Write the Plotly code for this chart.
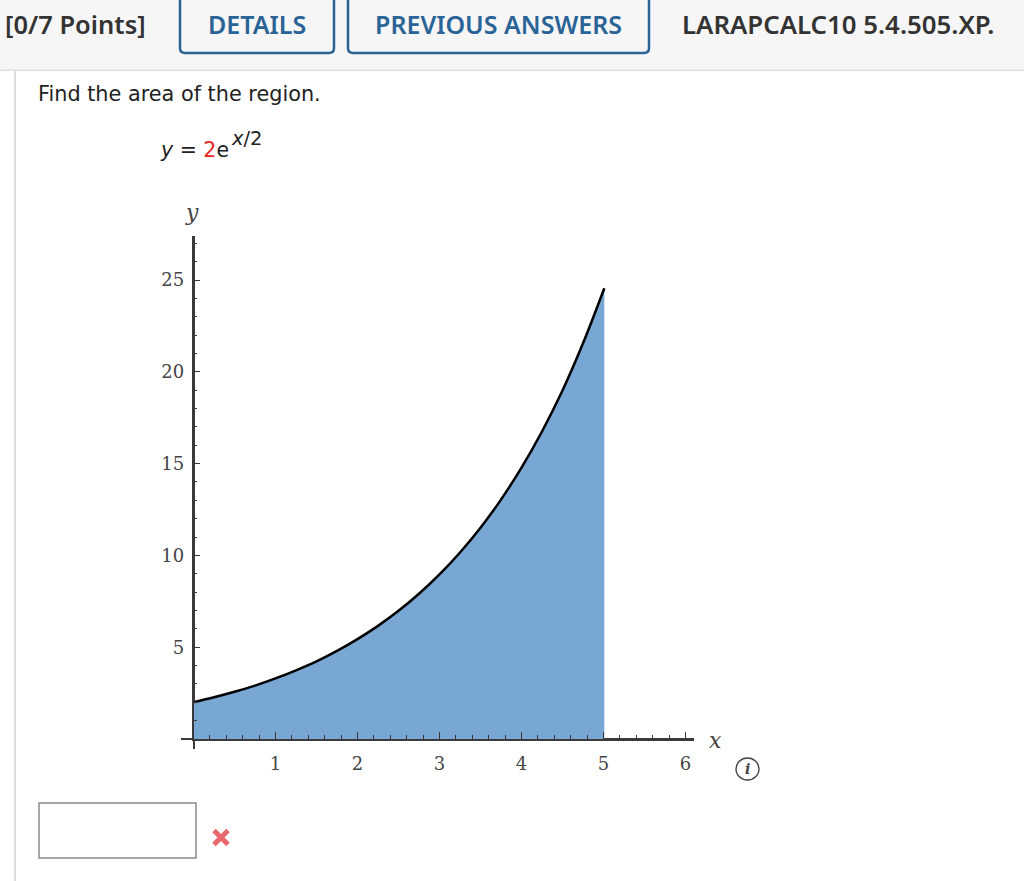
import plotly.graph_objects as go

# values
x_vals = [0, 0.25, 0.5, 0.75, 1, 1.25, 1.5, 1.75, 2, 2.25, 2.5, 2.75, 3, 3.25, 3.5, 3.75, 4, 4.25, 4.5, 4.75, 5.01]
y_vals = [2, 2.27, 2.57, 2.91, 3.3, 3.74, 4.23, 4.8, 5.44, 6.16, 6.98, 7.91, 8.96, 10.16, 11.51, 13.04, 14.78, 16.75, 18.98, 21.55, 24.55]
x_ticks = [1, 2, 3, 4, 5, 6]
y_ticks = [5, 10, 15, 20, 25]

W, H = 1024, 881
BLUE = "#2a6496"
AXIS = "#3a3a3a"
HEAD_FONT = "Noto Sans"
SERIF = "DejaVu Serif"

# pixel layout of the graph
x0_px, x_end_px, x_left_px = 193.5, 694, 181
y0_px, y_top_px, y_bot_px = 739, 236, 749
px_per_x = 82
px_per_y = 18.36


def fx(px):
    return px / W


def fy(py):
    return 1 - py / H


fig = go.Figure()

# back axes, only there for the zero lines that overshoot the origin
fig.add_trace(go.Scatter(x=[], y=[], xaxis="x", yaxis="y", showlegend=False))

fig.add_trace(go.Scatter(
    x=x_vals, y=y_vals, xaxis="x2", yaxis="y2",
    mode="lines", line=dict(color="black", width=2.5, shape="spline"),
    fill="tozeroy", fillcolor="#78a7d3", showlegend=False, hoverinfo="skip",
))

fig.update_layout(
    width=W, height=H, margin=dict(l=0, r=0, t=0, b=0),
    paper_bgcolor="white", plot_bgcolor="rgba(0,0,0,0)",
    xaxis=dict(
        domain=[fx(x_left_px), fx(x_end_px)],
        range=[(x_left_px - x0_px) / px_per_x, (x_end_px - x0_px) / px_per_x],
        showgrid=False, showticklabels=False, ticks="",
        zeroline=True, zerolinecolor=AXIS, zerolinewidth=1.6,
    ),
    yaxis=dict(
        domain=[fy(y_bot_px), fy(y_top_px)],
        range=[(y0_px - y_bot_px) / px_per_y, (y0_px - y_top_px) / px_per_y],
        showgrid=False, showticklabels=False, ticks="",
        zeroline=True, zerolinecolor=AXIS, zerolinewidth=1.6,
    ),
    xaxis2=dict(
        domain=[fx(x0_px), fx(x_end_px)], anchor="y2",
        range=[0, (x_end_px - x0_px) / px_per_x],
        showgrid=False, zeroline=False, showline=True, linecolor=AXIS, linewidth=1.6,
        tickmode="array", tickvals=x_ticks, ticks="inside", ticklen=7, tickwidth=1.4, tickcolor=AXIS,
        ticklabelstandoff=8,
        tickfont=dict(family=SERIF, size=18, color="#444444"),
        minor=dict(tickmode="linear", tick0=0, dtick=0.2, ticks="inside", ticklen=4, tickwidth=1.4, tickcolor=AXIS),
    ),
    yaxis2=dict(
        domain=[fy(y0_px), fy(y_top_px)], anchor="x2",
        range=[0, (y0_px - y_top_px) / px_per_y],
        showgrid=False, zeroline=False, showline=True, linecolor=AXIS, linewidth=1.6,
        tickmode="array", tickvals=y_ticks, ticks="inside", ticklen=7, tickwidth=1.4, tickcolor=AXIS,
        ticklabelstandoff=4,
        tickfont=dict(family=SERIF, size=18, color="#444444"),
        minor=dict(tickmode="linear", tick0=0, dtick=1, ticks="inside", ticklen=4, tickwidth=1.4, tickcolor=AXIS),
    ),
)


def rect(x0, y0, x1, y1, **kw):
    fig.add_shape(type="rect", xref="paper", yref="paper", layer="below",
                  x0=fx(x0), x1=fx(x1), y0=fy(y0), y1=fy(y1), **kw)


def text(px, py, s, size, color="#333333", family=HEAD_FONT, anchor="left", weight=None):
    fig.add_annotation(xref="paper", yref="paper", x=fx(px), y=fy(py), text=s, showarrow=False,
                       xanchor=anchor, yanchor="middle",
                       font=dict(family=family, size=size, color=color, weight=weight))


def button(x0, x1, y_bot, r=5):
    # open at the top, the page cuts the button off
    l, rr, b = fx(x0), fx(x1), fy(y_bot)
    dx, dy = r / W, r / H
    fig.add_shape(type="path", xref="paper", yref="paper", layer="below",
                  path=f"M {l} 1.01 L {l} {b + dy} Q {l} {b} {l + dx} {b} L {rr - dx} {b} "
                       f"Q {rr} {b} {rr} {b + dy} L {rr} 1.01",
                  line=dict(color=BLUE, width=2.5))


# header band and left rule
rect(0, 0, W, 70, fillcolor="#f6f6f6", line_width=0)
rect(0, 69.5, W, 71, fillcolor="#dedede", line_width=0)
rect(14, 71, 16, H, fillcolor="#dedede", line_width=0)
button(180, 334, 53)
button(348, 649, 53)

text(3, 24, "[0/7 Points]", 25.5, weight=600)
text(257, 24, "DETAILS", 25, color=BLUE, anchor="center", weight=600)
text(498.5, 24, "PREVIOUS ANSWERS", 25, color=BLUE, anchor="center", weight=600)
text(680, 24, "LARAPCALC10 5.4.505.XP.", 25.8, weight=600)
text(36, 94, "Find the area of the region.", 20.8, color="#222222", family="DejaVu Sans")
text(158, 150, '<i>y</i> = <span style="color:#e8281e">2</span>e', 20.5, color="#222222", family="DejaVu Sans")
text(229, 139, "<i>x</i>/2", 19.5, color="#222222", family="DejaVu Sans")

# axis names
text(192, 212, "<i>y</i>", 22, color="#444444", family=SERIF, anchor="center")
text(715, 740, "<i>x</i>", 22, color="#444444", family=SERIF, anchor="center")

# info icon
fig.add_shape(type="circle", xref="paper", yref="paper", x0=fx(736), x1=fx(759), y0=fy(780), y1=fy(758),
              line=dict(color="#444444", width=1.4))
text(747.5, 769, "<b><i>i</i></b>", 14, color="#444444", family=SERIF, anchor="center")

# answer box and red cross
rect(39, 803, 196, 858, fillcolor="white", line=dict(color="#8a8a8a", width=1.5))
fig.add_shape(type="path", xref="paper", yref="paper",
              path=f"M {fx(214)} {fy(830.5)} L {fx(228)} {fy(844.5)} M {fx(228)} {fy(830.5)} L {fx(214)} {fy(844.5)}",
              line=dict(color="#e8696b", width=5))

fig.write_html("out.html", config=dict(displayModeBar=False), post_script="document.body.style.margin='0';")
